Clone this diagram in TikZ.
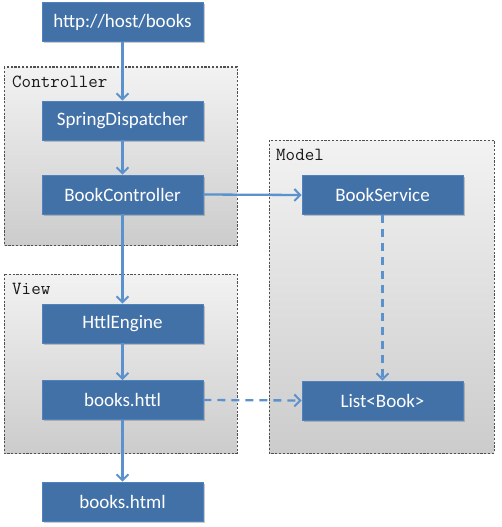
\documentclass[tikz,border=0pt]{standalone}
\usepackage{fontspec}
\setmainfont{Carlito}
\usetikzlibrary{arrows.meta,shadows}
\definecolor{boxblue}{RGB}{66,113,168}
\definecolor{boxedge}{RGB}{80,130,190}
\definecolor{arrowblue}{RGB}{91,145,205}
\definecolor{grpedge}{RGB}{80,80,80}
\tikzset{
  blockbox/.style={draw=boxedge,line width=0.6pt,fill=boxblue,text=white,
    minimum width=161pt,minimum height=39pt,inner sep=0pt,
    font=\fontsize{19}{21}\selectfont,
    drop shadow={shadow xshift=1.5pt,shadow yshift=-1.5pt,opacity=0.35,fill=black!60}},
  grp/.style={draw=grpedge,line width=1pt,dash pattern=on 2.2pt off 1.6pt,
    top color=black!5,bottom color=black!20},
  grplabel/.style={anchor=north west,inner sep=0pt,
    font=\ttfamily\fontsize{18.5}{18.5}\selectfont,text=black!90},
  conn/.style={draw=arrowblue,line width=2.3pt,
    -{Straight Barb[length=6pt,width=12pt,line width=2pt]}},
  dconn/.style={conn,dash pattern=on 8pt off 6pt}
}
\begin{document}
\begin{tikzpicture}[x=1pt,y=-1pt]
\useasboundingbox[fill=white] (0,0) rectangle (501,527);
% groups
\path[grp] (4,67) rectangle (237,245);
\path[grp] (4,274) rectangle (237,453);
\path[grp] (269,140) rectangle (494,453);
\node[grplabel] (lc) at (12,76) {Controller};
\node[grplabel] (lv) at (12,283) {View};
\node[grplabel] (lm) at (276,149) {Model};
% nodes
\node[blockbox] (url) at (122.5,22) {http://host/books};
\node[blockbox] (sd) at (122.5,120.5) {SpringDispatcher};
\node[blockbox] (bc) at (122.5,194.5) {BookController};
\node[blockbox] (he) at (122.5,323.5) {HttlEngine};
\node[blockbox] (bh) at (122.5,400) {books.httl};
\node[blockbox] (out) at (122.5,501.5) {books.html};
\node[blockbox] (bs) at (382.5,195) {BookService};
\node[blockbox] (lb) at (382.5,400.5) {List<Book>};
% connectors
\draw[conn] (url) -- (sd);
\draw[conn] (sd) -- (bc);
\draw[conn] (bc) -- (he);
\draw[conn] (he) -- (bh);
\draw[conn] (bh) -- (out);
\draw[conn] (bc.east) -- (bs.west);
\draw[dconn] (bs) -- (lb);
\draw[dconn] (bh.east) -- (lb.west);
\end{tikzpicture}
\end{document}
